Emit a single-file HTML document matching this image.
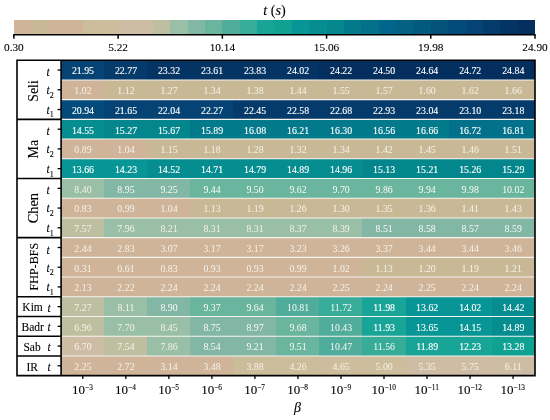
<!DOCTYPE html>
<html lang="en"><head><meta charset="utf-8"><title>t (s) heatmap</title>
<style>html,body{margin:0;padding:0;background:#fff}svg{display:block}text{font-family:"Liberation Serif","DejaVu Serif",serif;fill:#000;stroke:#000;stroke-width:0.1px}.c{font-size:9.85px;fill:#fff;stroke:#fff;stroke-width:0.12px;text-anchor:middle}.l{fill:#f7f2e9;stroke:none}.m{fill:#fcfaf6;stroke:none}.k{font-size:11.5px;text-anchor:middle}.i{font-style:italic}.g{font-size:13px;text-anchor:middle}</style></head><body>
<svg width="550" height="420" viewBox="0 0 550 420">
<rect width="550" height="420" fill="#fff"/>
<text x="274.6" y="14.5" font-size="14.2" text-anchor="middle"><tspan class="i">t</tspan> (<tspan class="i">s</tspan>)</text>
<g shape-rendering="crispEdges">
<rect x="13.90" y="19.6" width="17.87" height="15" fill="#cfb49a"/>
<rect x="31.27" y="19.6" width="17.87" height="15" fill="#c8b895"/>
<rect x="48.64" y="19.6" width="17.87" height="15" fill="#cfb49a"/>
<rect x="66.01" y="19.6" width="17.87" height="15" fill="#cfb49a"/>
<rect x="83.38" y="19.6" width="17.87" height="15" fill="#cbbc9a"/>
<rect x="100.75" y="19.6" width="17.87" height="15" fill="#cdbd9c"/>
<rect x="118.12" y="19.6" width="17.87" height="15" fill="#cebda4"/>
<rect x="135.49" y="19.6" width="17.87" height="15" fill="#cdbda5"/>
<rect x="152.86" y="19.6" width="17.87" height="15" fill="#bebfa0"/>
<rect x="170.23" y="19.6" width="17.87" height="15" fill="#9abfa7"/>
<rect x="187.60" y="19.6" width="17.87" height="15" fill="#82b7a5"/>
<rect x="204.97" y="19.6" width="17.87" height="15" fill="#6ab59d"/>
<rect x="222.34" y="19.6" width="17.87" height="15" fill="#50ac9b"/>
<rect x="239.71" y="19.6" width="17.87" height="15" fill="#37ac98"/>
<rect x="257.08" y="19.6" width="17.87" height="15" fill="#18a598"/>
<rect x="274.45" y="19.6" width="17.87" height="15" fill="#0fa292"/>
<rect x="291.82" y="19.6" width="17.87" height="15" fill="#089595"/>
<rect x="309.19" y="19.6" width="17.87" height="15" fill="#068d90"/>
<rect x="326.56" y="19.6" width="17.87" height="15" fill="#03878d"/>
<rect x="343.93" y="19.6" width="17.87" height="15" fill="#037a8b"/>
<rect x="361.30" y="19.6" width="17.87" height="15" fill="#03718a"/>
<rect x="378.67" y="19.6" width="17.87" height="15" fill="#02658c"/>
<rect x="396.04" y="19.6" width="17.87" height="15" fill="#036184"/>
<rect x="413.41" y="19.6" width="17.87" height="15" fill="#025a7e"/>
<rect x="430.78" y="19.6" width="17.87" height="15" fill="#02527a"/>
<rect x="448.15" y="19.6" width="17.87" height="15" fill="#034b7b"/>
<rect x="465.52" y="19.6" width="17.87" height="15" fill="#044373"/>
<rect x="482.89" y="19.6" width="17.87" height="15" fill="#043b6b"/>
<rect x="500.26" y="19.6" width="17.87" height="15" fill="#043464"/>
<rect x="517.63" y="19.6" width="16.97" height="15" fill="#042e5d"/>
</g>
<path d="M13.200000000000001 34.85H535.7" stroke="#000" stroke-width="1.5" fill="none"/>
<path d="M13.90 34.85V38.7" stroke="#000" stroke-width="1.5"/>
<text x="13.90" y="51" font-size="11.3" text-anchor="middle">0.30</text>
<path d="M118.12 34.85V38.7" stroke="#000" stroke-width="1.5"/>
<text x="118.12" y="51" font-size="11.3" text-anchor="middle">5.22</text>
<path d="M222.34 34.85V38.7" stroke="#000" stroke-width="1.5"/>
<text x="222.34" y="51" font-size="11.3" text-anchor="middle">10.14</text>
<path d="M326.56 34.85V38.7" stroke="#000" stroke-width="1.5"/>
<text x="326.56" y="51" font-size="11.3" text-anchor="middle">15.06</text>
<path d="M430.78 34.85V38.7" stroke="#000" stroke-width="1.5"/>
<text x="430.78" y="51" font-size="11.3" text-anchor="middle">19.98</text>
<path d="M535.00 34.85V38.7" stroke="#000" stroke-width="1.5"/>
<text x="535.00" y="51" font-size="11.3" text-anchor="middle">24.90</text>
<g shape-rendering="crispEdges">
<rect x="61.30" y="60.20" width="43.53" height="20.22" fill="#044373"/>
<rect x="104.33" y="60.20" width="43.53" height="20.22" fill="#043b6b"/>
<rect x="147.35" y="60.20" width="43.53" height="20.22" fill="#043464"/>
<rect x="190.38" y="60.20" width="43.53" height="20.22" fill="#043464"/>
<rect x="233.41" y="60.20" width="43.53" height="20.22" fill="#043464"/>
<rect x="276.44" y="60.20" width="43.53" height="20.22" fill="#043464"/>
<rect x="319.46" y="60.20" width="43.53" height="20.22" fill="#042e5d"/>
<rect x="362.49" y="60.20" width="43.53" height="20.22" fill="#042e5d"/>
<rect x="405.52" y="60.20" width="43.53" height="20.22" fill="#042e5d"/>
<rect x="448.55" y="60.20" width="43.53" height="20.22" fill="#042e5d"/>
<rect x="491.57" y="60.20" width="43.53" height="20.22" fill="#042e5d"/>
<rect x="61.30" y="79.92" width="43.53" height="20.22" fill="#cfb49a"/>
<rect x="104.33" y="79.92" width="43.53" height="20.22" fill="#c8b895"/>
<rect x="147.35" y="79.92" width="43.53" height="20.22" fill="#c8b895"/>
<rect x="190.38" y="79.92" width="43.53" height="20.22" fill="#c8b895"/>
<rect x="233.41" y="79.92" width="43.53" height="20.22" fill="#c8b895"/>
<rect x="276.44" y="79.92" width="43.53" height="20.22" fill="#c8b895"/>
<rect x="319.46" y="79.92" width="43.53" height="20.22" fill="#c8b895"/>
<rect x="362.49" y="79.92" width="43.53" height="20.22" fill="#c8b895"/>
<rect x="405.52" y="79.92" width="43.53" height="20.22" fill="#c8b895"/>
<rect x="448.55" y="79.92" width="43.53" height="20.22" fill="#c8b895"/>
<rect x="491.57" y="79.92" width="43.53" height="20.22" fill="#c8b895"/>
<rect x="61.30" y="99.63" width="43.53" height="20.22" fill="#034b7b"/>
<rect x="104.33" y="99.63" width="43.53" height="20.22" fill="#044373"/>
<rect x="147.35" y="99.63" width="43.53" height="20.22" fill="#044373"/>
<rect x="190.38" y="99.63" width="43.53" height="20.22" fill="#044373"/>
<rect x="233.41" y="99.63" width="43.53" height="20.22" fill="#043b6b"/>
<rect x="276.44" y="99.63" width="43.53" height="20.22" fill="#043b6b"/>
<rect x="319.46" y="99.63" width="43.53" height="20.22" fill="#043b6b"/>
<rect x="362.49" y="99.63" width="43.53" height="20.22" fill="#043b6b"/>
<rect x="405.52" y="99.63" width="43.53" height="20.22" fill="#043b6b"/>
<rect x="448.55" y="99.63" width="43.53" height="20.22" fill="#043b6b"/>
<rect x="491.57" y="99.63" width="43.53" height="20.22" fill="#043b6b"/>
<rect x="61.30" y="119.35" width="43.53" height="20.22" fill="#068d90"/>
<rect x="104.33" y="119.35" width="43.53" height="20.22" fill="#03878d"/>
<rect x="147.35" y="119.35" width="43.53" height="20.22" fill="#03878d"/>
<rect x="190.38" y="119.35" width="43.53" height="20.22" fill="#037a8b"/>
<rect x="233.41" y="119.35" width="43.53" height="20.22" fill="#037a8b"/>
<rect x="276.44" y="119.35" width="43.53" height="20.22" fill="#037a8b"/>
<rect x="319.46" y="119.35" width="43.53" height="20.22" fill="#037a8b"/>
<rect x="362.49" y="119.35" width="43.53" height="20.22" fill="#037a8b"/>
<rect x="405.52" y="119.35" width="43.53" height="20.22" fill="#037a8b"/>
<rect x="448.55" y="119.35" width="43.53" height="20.22" fill="#03718a"/>
<rect x="491.57" y="119.35" width="43.53" height="20.22" fill="#03718a"/>
<rect x="61.30" y="139.06" width="43.53" height="20.22" fill="#cfb49a"/>
<rect x="104.33" y="139.06" width="43.53" height="20.22" fill="#cfb49a"/>
<rect x="147.35" y="139.06" width="43.53" height="20.22" fill="#c8b895"/>
<rect x="190.38" y="139.06" width="43.53" height="20.22" fill="#c8b895"/>
<rect x="233.41" y="139.06" width="43.53" height="20.22" fill="#c8b895"/>
<rect x="276.44" y="139.06" width="43.53" height="20.22" fill="#c8b895"/>
<rect x="319.46" y="139.06" width="43.53" height="20.22" fill="#c8b895"/>
<rect x="362.49" y="139.06" width="43.53" height="20.22" fill="#c8b895"/>
<rect x="405.52" y="139.06" width="43.53" height="20.22" fill="#c8b895"/>
<rect x="448.55" y="139.06" width="43.53" height="20.22" fill="#c8b895"/>
<rect x="491.57" y="139.06" width="43.53" height="20.22" fill="#c8b895"/>
<rect x="61.30" y="158.78" width="43.53" height="20.22" fill="#089595"/>
<rect x="104.33" y="158.78" width="43.53" height="20.22" fill="#089595"/>
<rect x="147.35" y="158.78" width="43.53" height="20.22" fill="#068d90"/>
<rect x="190.38" y="158.78" width="43.53" height="20.22" fill="#068d90"/>
<rect x="233.41" y="158.78" width="43.53" height="20.22" fill="#068d90"/>
<rect x="276.44" y="158.78" width="43.53" height="20.22" fill="#068d90"/>
<rect x="319.46" y="158.78" width="43.53" height="20.22" fill="#068d90"/>
<rect x="362.49" y="158.78" width="43.53" height="20.22" fill="#03878d"/>
<rect x="405.52" y="158.78" width="43.53" height="20.22" fill="#03878d"/>
<rect x="448.55" y="158.78" width="43.53" height="20.22" fill="#03878d"/>
<rect x="491.57" y="158.78" width="43.53" height="20.22" fill="#03878d"/>
<rect x="61.30" y="178.49" width="43.53" height="20.22" fill="#9abfa7"/>
<rect x="104.33" y="178.49" width="43.53" height="20.22" fill="#82b7a5"/>
<rect x="147.35" y="178.49" width="43.53" height="20.22" fill="#82b7a5"/>
<rect x="190.38" y="178.49" width="43.53" height="20.22" fill="#6ab59d"/>
<rect x="233.41" y="178.49" width="43.53" height="20.22" fill="#6ab59d"/>
<rect x="276.44" y="178.49" width="43.53" height="20.22" fill="#6ab59d"/>
<rect x="319.46" y="178.49" width="43.53" height="20.22" fill="#6ab59d"/>
<rect x="362.49" y="178.49" width="43.53" height="20.22" fill="#6ab59d"/>
<rect x="405.52" y="178.49" width="43.53" height="20.22" fill="#6ab59d"/>
<rect x="448.55" y="178.49" width="43.53" height="20.22" fill="#6ab59d"/>
<rect x="491.57" y="178.49" width="43.53" height="20.22" fill="#6ab59d"/>
<rect x="61.30" y="198.21" width="43.53" height="20.22" fill="#cfb49a"/>
<rect x="104.33" y="198.21" width="43.53" height="20.22" fill="#cfb49a"/>
<rect x="147.35" y="198.21" width="43.53" height="20.22" fill="#cfb49a"/>
<rect x="190.38" y="198.21" width="43.53" height="20.22" fill="#c8b895"/>
<rect x="233.41" y="198.21" width="43.53" height="20.22" fill="#c8b895"/>
<rect x="276.44" y="198.21" width="43.53" height="20.22" fill="#c8b895"/>
<rect x="319.46" y="198.21" width="43.53" height="20.22" fill="#c8b895"/>
<rect x="362.49" y="198.21" width="43.53" height="20.22" fill="#c8b895"/>
<rect x="405.52" y="198.21" width="43.53" height="20.22" fill="#c8b895"/>
<rect x="448.55" y="198.21" width="43.53" height="20.22" fill="#c8b895"/>
<rect x="491.57" y="198.21" width="43.53" height="20.22" fill="#c8b895"/>
<rect x="61.30" y="217.93" width="43.53" height="20.22" fill="#bebfa0"/>
<rect x="104.33" y="217.93" width="43.53" height="20.22" fill="#9abfa7"/>
<rect x="147.35" y="217.93" width="43.53" height="20.22" fill="#9abfa7"/>
<rect x="190.38" y="217.93" width="43.53" height="20.22" fill="#9abfa7"/>
<rect x="233.41" y="217.93" width="43.53" height="20.22" fill="#9abfa7"/>
<rect x="276.44" y="217.93" width="43.53" height="20.22" fill="#9abfa7"/>
<rect x="319.46" y="217.93" width="43.53" height="20.22" fill="#9abfa7"/>
<rect x="362.49" y="217.93" width="43.53" height="20.22" fill="#82b7a5"/>
<rect x="405.52" y="217.93" width="43.53" height="20.22" fill="#82b7a5"/>
<rect x="448.55" y="217.93" width="43.53" height="20.22" fill="#82b7a5"/>
<rect x="491.57" y="217.93" width="43.53" height="20.22" fill="#82b7a5"/>
<rect x="61.30" y="237.64" width="43.53" height="20.22" fill="#cfb49a"/>
<rect x="104.33" y="237.64" width="43.53" height="20.22" fill="#cfb49a"/>
<rect x="147.35" y="237.64" width="43.53" height="20.22" fill="#cfb49a"/>
<rect x="190.38" y="237.64" width="43.53" height="20.22" fill="#cfb49a"/>
<rect x="233.41" y="237.64" width="43.53" height="20.22" fill="#cfb49a"/>
<rect x="276.44" y="237.64" width="43.53" height="20.22" fill="#cfb49a"/>
<rect x="319.46" y="237.64" width="43.53" height="20.22" fill="#cfb49a"/>
<rect x="362.49" y="237.64" width="43.53" height="20.22" fill="#cfb49a"/>
<rect x="405.52" y="237.64" width="43.53" height="20.22" fill="#cfb49a"/>
<rect x="448.55" y="237.64" width="43.53" height="20.22" fill="#cfb49a"/>
<rect x="491.57" y="237.64" width="43.53" height="20.22" fill="#cfb49a"/>
<rect x="61.30" y="257.36" width="43.53" height="20.22" fill="#cfb49a"/>
<rect x="104.33" y="257.36" width="43.53" height="20.22" fill="#cfb49a"/>
<rect x="147.35" y="257.36" width="43.53" height="20.22" fill="#cfb49a"/>
<rect x="190.38" y="257.36" width="43.53" height="20.22" fill="#cfb49a"/>
<rect x="233.41" y="257.36" width="43.53" height="20.22" fill="#cfb49a"/>
<rect x="276.44" y="257.36" width="43.53" height="20.22" fill="#cfb49a"/>
<rect x="319.46" y="257.36" width="43.53" height="20.22" fill="#cfb49a"/>
<rect x="362.49" y="257.36" width="43.53" height="20.22" fill="#c8b895"/>
<rect x="405.52" y="257.36" width="43.53" height="20.22" fill="#c8b895"/>
<rect x="448.55" y="257.36" width="43.53" height="20.22" fill="#c8b895"/>
<rect x="491.57" y="257.36" width="43.53" height="20.22" fill="#c8b895"/>
<rect x="61.30" y="277.07" width="43.53" height="20.22" fill="#cfb49a"/>
<rect x="104.33" y="277.07" width="43.53" height="20.22" fill="#cfb49a"/>
<rect x="147.35" y="277.07" width="43.53" height="20.22" fill="#cfb49a"/>
<rect x="190.38" y="277.07" width="43.53" height="20.22" fill="#cfb49a"/>
<rect x="233.41" y="277.07" width="43.53" height="20.22" fill="#cfb49a"/>
<rect x="276.44" y="277.07" width="43.53" height="20.22" fill="#cfb49a"/>
<rect x="319.46" y="277.07" width="43.53" height="20.22" fill="#cfb49a"/>
<rect x="362.49" y="277.07" width="43.53" height="20.22" fill="#cfb49a"/>
<rect x="405.52" y="277.07" width="43.53" height="20.22" fill="#cfb49a"/>
<rect x="448.55" y="277.07" width="43.53" height="20.22" fill="#cfb49a"/>
<rect x="491.57" y="277.07" width="43.53" height="20.22" fill="#cfb49a"/>
<rect x="61.30" y="296.79" width="43.53" height="20.22" fill="#bebfa0"/>
<rect x="104.33" y="296.79" width="43.53" height="20.22" fill="#9abfa7"/>
<rect x="147.35" y="296.79" width="43.53" height="20.22" fill="#82b7a5"/>
<rect x="190.38" y="296.79" width="43.53" height="20.22" fill="#6ab59d"/>
<rect x="233.41" y="296.79" width="43.53" height="20.22" fill="#6ab59d"/>
<rect x="276.44" y="296.79" width="43.53" height="20.22" fill="#50ac9b"/>
<rect x="319.46" y="296.79" width="43.53" height="20.22" fill="#37ac98"/>
<rect x="362.49" y="296.79" width="43.53" height="20.22" fill="#18a598"/>
<rect x="405.52" y="296.79" width="43.53" height="20.22" fill="#089595"/>
<rect x="448.55" y="296.79" width="43.53" height="20.22" fill="#089595"/>
<rect x="491.57" y="296.79" width="43.53" height="20.22" fill="#068d90"/>
<rect x="61.30" y="316.50" width="43.53" height="20.22" fill="#bebfa0"/>
<rect x="104.33" y="316.50" width="43.53" height="20.22" fill="#9abfa7"/>
<rect x="147.35" y="316.50" width="43.53" height="20.22" fill="#9abfa7"/>
<rect x="190.38" y="316.50" width="43.53" height="20.22" fill="#82b7a5"/>
<rect x="233.41" y="316.50" width="43.53" height="20.22" fill="#82b7a5"/>
<rect x="276.44" y="316.50" width="43.53" height="20.22" fill="#6ab59d"/>
<rect x="319.46" y="316.50" width="43.53" height="20.22" fill="#50ac9b"/>
<rect x="362.49" y="316.50" width="43.53" height="20.22" fill="#18a598"/>
<rect x="405.52" y="316.50" width="43.53" height="20.22" fill="#089595"/>
<rect x="448.55" y="316.50" width="43.53" height="20.22" fill="#089595"/>
<rect x="491.57" y="316.50" width="43.53" height="20.22" fill="#068d90"/>
<rect x="61.30" y="336.22" width="43.53" height="20.22" fill="#cdbda5"/>
<rect x="104.33" y="336.22" width="43.53" height="20.22" fill="#bebfa0"/>
<rect x="147.35" y="336.22" width="43.53" height="20.22" fill="#9abfa7"/>
<rect x="190.38" y="336.22" width="43.53" height="20.22" fill="#82b7a5"/>
<rect x="233.41" y="336.22" width="43.53" height="20.22" fill="#82b7a5"/>
<rect x="276.44" y="336.22" width="43.53" height="20.22" fill="#6ab59d"/>
<rect x="319.46" y="336.22" width="43.53" height="20.22" fill="#50ac9b"/>
<rect x="362.49" y="336.22" width="43.53" height="20.22" fill="#37ac98"/>
<rect x="405.52" y="336.22" width="43.53" height="20.22" fill="#18a598"/>
<rect x="448.55" y="336.22" width="43.53" height="20.22" fill="#18a598"/>
<rect x="491.57" y="336.22" width="43.53" height="20.22" fill="#0fa292"/>
<rect x="61.30" y="355.93" width="43.53" height="20.22" fill="#cfb49a"/>
<rect x="104.33" y="355.93" width="43.53" height="20.22" fill="#cfb49a"/>
<rect x="147.35" y="355.93" width="43.53" height="20.22" fill="#cfb49a"/>
<rect x="190.38" y="355.93" width="43.53" height="20.22" fill="#cfb49a"/>
<rect x="233.41" y="355.93" width="43.53" height="20.22" fill="#cbbc9a"/>
<rect x="276.44" y="355.93" width="43.53" height="20.22" fill="#cbbc9a"/>
<rect x="319.46" y="355.93" width="43.53" height="20.22" fill="#cdbd9c"/>
<rect x="362.49" y="355.93" width="43.53" height="20.22" fill="#cdbd9c"/>
<rect x="405.52" y="355.93" width="43.53" height="20.22" fill="#cebda4"/>
<rect x="448.55" y="355.93" width="43.53" height="20.22" fill="#cebda4"/>
<rect x="491.57" y="355.93" width="43.53" height="20.22" fill="#cdbda5"/>
</g>
<path d="M61.3 79.92H534.6" stroke="#f6f4ee" stroke-width="1.05"/>
<path d="M61.3 99.63H534.6" stroke="#f6f4ee" stroke-width="1.05"/>
<path d="M61.3 119.35H534.6" stroke="#f6f4ee" stroke-width="1.05"/>
<path d="M61.3 139.06H534.6" stroke="#f6f4ee" stroke-width="1.05"/>
<path d="M61.3 158.78H534.6" stroke="#f6f4ee" stroke-width="1.05"/>
<path d="M61.3 178.49H534.6" stroke="#f6f4ee" stroke-width="1.05"/>
<path d="M61.3 198.21H534.6" stroke="#f6f4ee" stroke-width="1.05"/>
<path d="M61.3 217.93H534.6" stroke="#f6f4ee" stroke-width="1.05"/>
<path d="M61.3 237.64H534.6" stroke="#f6f4ee" stroke-width="1.05"/>
<path d="M61.3 257.36H534.6" stroke="#f6f4ee" stroke-width="1.05"/>
<path d="M61.3 277.07H534.6" stroke="#f6f4ee" stroke-width="1.05"/>
<path d="M61.3 296.79H534.6" stroke="#f6f4ee" stroke-width="1.05"/>
<path d="M61.3 316.50H534.6" stroke="#f6f4ee" stroke-width="1.05"/>
<path d="M61.3 336.22H534.6" stroke="#f6f4ee" stroke-width="1.05"/>
<path d="M61.3 355.93H534.6" stroke="#f6f4ee" stroke-width="1.05"/>
<text class="c" x="82.96" y="74.36">21.95</text>
<text class="c" x="125.99" y="74.36">22.77</text>
<text class="c" x="169.02" y="74.36">23.32</text>
<text class="c" x="212.05" y="74.36">23.61</text>
<text class="c" x="255.07" y="74.36">23.83</text>
<text class="c" x="298.10" y="74.36">24.02</text>
<text class="c" x="341.13" y="74.36">24.22</text>
<text class="c" x="384.15" y="74.36">24.50</text>
<text class="c" x="427.18" y="74.36">24.64</text>
<text class="c" x="470.21" y="74.36">24.72</text>
<text class="c" x="513.24" y="74.36">24.84</text>
<text class="c l" x="82.96" y="94.07">1.02</text>
<text class="c l" x="125.99" y="94.07">1.12</text>
<text class="c l" x="169.02" y="94.07">1.27</text>
<text class="c l" x="212.05" y="94.07">1.34</text>
<text class="c l" x="255.07" y="94.07">1.38</text>
<text class="c l" x="298.10" y="94.07">1.44</text>
<text class="c l" x="341.13" y="94.07">1.55</text>
<text class="c l" x="384.15" y="94.07">1.57</text>
<text class="c l" x="427.18" y="94.07">1.60</text>
<text class="c l" x="470.21" y="94.07">1.62</text>
<text class="c l" x="513.24" y="94.07">1.66</text>
<text class="c" x="82.96" y="113.79">20.94</text>
<text class="c" x="125.99" y="113.79">21.65</text>
<text class="c" x="169.02" y="113.79">22.04</text>
<text class="c" x="212.05" y="113.79">22.27</text>
<text class="c" x="255.07" y="113.79">22.45</text>
<text class="c" x="298.10" y="113.79">22.58</text>
<text class="c" x="341.13" y="113.79">22.68</text>
<text class="c" x="384.15" y="113.79">22.93</text>
<text class="c" x="427.18" y="113.79">23.04</text>
<text class="c" x="470.21" y="113.79">23.10</text>
<text class="c" x="513.24" y="113.79">23.18</text>
<text class="c" x="82.96" y="133.50">14.55</text>
<text class="c" x="125.99" y="133.50">15.27</text>
<text class="c" x="169.02" y="133.50">15.67</text>
<text class="c" x="212.05" y="133.50">15.89</text>
<text class="c" x="255.07" y="133.50">16.08</text>
<text class="c" x="298.10" y="133.50">16.21</text>
<text class="c" x="341.13" y="133.50">16.30</text>
<text class="c" x="384.15" y="133.50">16.56</text>
<text class="c" x="427.18" y="133.50">16.66</text>
<text class="c" x="470.21" y="133.50">16.72</text>
<text class="c" x="513.24" y="133.50">16.81</text>
<text class="c l" x="82.96" y="153.22">0.89</text>
<text class="c l" x="125.99" y="153.22">1.04</text>
<text class="c l" x="169.02" y="153.22">1.15</text>
<text class="c l" x="212.05" y="153.22">1.18</text>
<text class="c l" x="255.07" y="153.22">1.28</text>
<text class="c l" x="298.10" y="153.22">1.32</text>
<text class="c l" x="341.13" y="153.22">1.34</text>
<text class="c l" x="384.15" y="153.22">1.42</text>
<text class="c l" x="427.18" y="153.22">1.45</text>
<text class="c l" x="470.21" y="153.22">1.46</text>
<text class="c l" x="513.24" y="153.22">1.51</text>
<text class="c" x="82.96" y="172.94">13.66</text>
<text class="c" x="125.99" y="172.94">14.23</text>
<text class="c" x="169.02" y="172.94">14.52</text>
<text class="c" x="212.05" y="172.94">14.71</text>
<text class="c" x="255.07" y="172.94">14.79</text>
<text class="c" x="298.10" y="172.94">14.89</text>
<text class="c" x="341.13" y="172.94">14.96</text>
<text class="c" x="384.15" y="172.94">15.13</text>
<text class="c" x="427.18" y="172.94">15.21</text>
<text class="c" x="470.21" y="172.94">15.26</text>
<text class="c" x="513.24" y="172.94">15.29</text>
<text class="c l" x="82.96" y="192.65">8.40</text>
<text class="c m" x="125.99" y="192.65">8.95</text>
<text class="c m" x="169.02" y="192.65">9.25</text>
<text class="c m" x="212.05" y="192.65">9.44</text>
<text class="c m" x="255.07" y="192.65">9.50</text>
<text class="c m" x="298.10" y="192.65">9.62</text>
<text class="c m" x="341.13" y="192.65">9.70</text>
<text class="c m" x="384.15" y="192.65">9.86</text>
<text class="c m" x="427.18" y="192.65">9.94</text>
<text class="c m" x="470.21" y="192.65">9.98</text>
<text class="c m" x="513.24" y="192.65">10.02</text>
<text class="c l" x="82.96" y="212.37">0.83</text>
<text class="c l" x="125.99" y="212.37">0.99</text>
<text class="c l" x="169.02" y="212.37">1.04</text>
<text class="c l" x="212.05" y="212.37">1.13</text>
<text class="c l" x="255.07" y="212.37">1.19</text>
<text class="c l" x="298.10" y="212.37">1.26</text>
<text class="c l" x="341.13" y="212.37">1.30</text>
<text class="c l" x="384.15" y="212.37">1.35</text>
<text class="c l" x="427.18" y="212.37">1.36</text>
<text class="c l" x="470.21" y="212.37">1.41</text>
<text class="c l" x="513.24" y="212.37">1.43</text>
<text class="c l" x="82.96" y="232.08">7.57</text>
<text class="c l" x="125.99" y="232.08">7.96</text>
<text class="c l" x="169.02" y="232.08">8.21</text>
<text class="c l" x="212.05" y="232.08">8.31</text>
<text class="c l" x="255.07" y="232.08">8.31</text>
<text class="c l" x="298.10" y="232.08">8.37</text>
<text class="c l" x="341.13" y="232.08">8.39</text>
<text class="c m" x="384.15" y="232.08">8.51</text>
<text class="c m" x="427.18" y="232.08">8.58</text>
<text class="c m" x="470.21" y="232.08">8.57</text>
<text class="c m" x="513.24" y="232.08">8.59</text>
<text class="c l" x="82.96" y="251.80">2.44</text>
<text class="c l" x="125.99" y="251.80">2.83</text>
<text class="c l" x="169.02" y="251.80">3.07</text>
<text class="c l" x="212.05" y="251.80">3.17</text>
<text class="c l" x="255.07" y="251.80">3.17</text>
<text class="c l" x="298.10" y="251.80">3.23</text>
<text class="c l" x="341.13" y="251.80">3.26</text>
<text class="c l" x="384.15" y="251.80">3.37</text>
<text class="c l" x="427.18" y="251.80">3.44</text>
<text class="c l" x="470.21" y="251.80">3.44</text>
<text class="c l" x="513.24" y="251.80">3.46</text>
<text class="c l" x="82.96" y="271.51">0.31</text>
<text class="c l" x="125.99" y="271.51">0.61</text>
<text class="c l" x="169.02" y="271.51">0.83</text>
<text class="c l" x="212.05" y="271.51">0.93</text>
<text class="c l" x="255.07" y="271.51">0.93</text>
<text class="c l" x="298.10" y="271.51">0.99</text>
<text class="c l" x="341.13" y="271.51">1.02</text>
<text class="c l" x="384.15" y="271.51">1.13</text>
<text class="c l" x="427.18" y="271.51">1.20</text>
<text class="c l" x="470.21" y="271.51">1.19</text>
<text class="c l" x="513.24" y="271.51">1.21</text>
<text class="c l" x="82.96" y="291.23">2.13</text>
<text class="c l" x="125.99" y="291.23">2.22</text>
<text class="c l" x="169.02" y="291.23">2.24</text>
<text class="c l" x="212.05" y="291.23">2.24</text>
<text class="c l" x="255.07" y="291.23">2.24</text>
<text class="c l" x="298.10" y="291.23">2.24</text>
<text class="c l" x="341.13" y="291.23">2.25</text>
<text class="c l" x="384.15" y="291.23">2.24</text>
<text class="c l" x="427.18" y="291.23">2.25</text>
<text class="c l" x="470.21" y="291.23">2.24</text>
<text class="c l" x="513.24" y="291.23">2.24</text>
<text class="c l" x="82.96" y="310.95">7.27</text>
<text class="c l" x="125.99" y="310.95">8.11</text>
<text class="c m" x="169.02" y="310.95">8.90</text>
<text class="c m" x="212.05" y="310.95">9.37</text>
<text class="c m" x="255.07" y="310.95">9.64</text>
<text class="c m" x="298.10" y="310.95">10.81</text>
<text class="c m" x="341.13" y="310.95">11.72</text>
<text class="c" x="384.15" y="310.95">11.98</text>
<text class="c" x="427.18" y="310.95">13.62</text>
<text class="c" x="470.21" y="310.95">14.02</text>
<text class="c" x="513.24" y="310.95">14.42</text>
<text class="c l" x="82.96" y="330.66">6.96</text>
<text class="c l" x="125.99" y="330.66">7.70</text>
<text class="c l" x="169.02" y="330.66">8.45</text>
<text class="c m" x="212.05" y="330.66">8.75</text>
<text class="c m" x="255.07" y="330.66">8.97</text>
<text class="c m" x="298.10" y="330.66">9.68</text>
<text class="c m" x="341.13" y="330.66">10.43</text>
<text class="c" x="384.15" y="330.66">11.93</text>
<text class="c" x="427.18" y="330.66">13.65</text>
<text class="c" x="470.21" y="330.66">14.15</text>
<text class="c" x="513.24" y="330.66">14.89</text>
<text class="c l" x="82.96" y="350.38">6.70</text>
<text class="c l" x="125.99" y="350.38">7.54</text>
<text class="c l" x="169.02" y="350.38">7.86</text>
<text class="c m" x="212.05" y="350.38">8.54</text>
<text class="c m" x="255.07" y="350.38">9.21</text>
<text class="c m" x="298.10" y="350.38">9.51</text>
<text class="c m" x="341.13" y="350.38">10.47</text>
<text class="c m" x="384.15" y="350.38">11.56</text>
<text class="c" x="427.18" y="350.38">11.89</text>
<text class="c" x="470.21" y="350.38">12.23</text>
<text class="c" x="513.24" y="350.38">13.28</text>
<text class="c l" x="82.96" y="370.09">2.25</text>
<text class="c l" x="125.99" y="370.09">2.72</text>
<text class="c l" x="169.02" y="370.09">3.14</text>
<text class="c l" x="212.05" y="370.09">3.48</text>
<text class="c l" x="255.07" y="370.09">3.88</text>
<text class="c l" x="298.10" y="370.09">4.26</text>
<text class="c l" x="341.13" y="370.09">4.65</text>
<text class="c l" x="384.15" y="370.09">5.00</text>
<text class="c l" x="427.18" y="370.09">5.35</text>
<text class="c l" x="470.21" y="370.09">5.75</text>
<text class="c l" x="513.24" y="370.09">6.11</text>
<rect x="17.0" y="60.2" width="44.3" height="315.45" fill="#fff"/>
<path d="M17.0 60.2H535.0V375.65H17.0Z M61.099999999999994 60.2V375.65" stroke="#000" stroke-width="1.6" fill="none"/>
<path d="M17.0 119.35H61.3" stroke="#000" stroke-width="1.6"/>
<path d="M17.0 178.49H61.3" stroke="#000" stroke-width="1.6"/>
<path d="M17.0 237.64H61.3" stroke="#000" stroke-width="1.6"/>
<path d="M17.0 296.79H61.3" stroke="#000" stroke-width="1.6"/>
<path d="M17.0 316.50H61.3" stroke="#000" stroke-width="1.6"/>
<path d="M17.0 336.22H61.3" stroke="#000" stroke-width="1.6"/>
<path d="M17.0 355.93H61.3" stroke="#000" stroke-width="1.6"/>
<path d="M57.6 70.06H61.3" stroke="#000" stroke-width="1.3"/>
<text class="i" font-size="11.5" x="46.6" y="76.06">t</text>
<path d="M57.6 89.77H61.3" stroke="#000" stroke-width="1.3"/>
<text font-size="11.5" x="46.6" y="94.17"><tspan class="i">t</tspan><tspan font-size="8" dy="3.6">2</tspan></text>
<path d="M57.6 109.49H61.3" stroke="#000" stroke-width="1.3"/>
<text font-size="11.5" x="46.6" y="113.89"><tspan class="i">t</tspan><tspan font-size="8" dy="3.6">1</tspan></text>
<path d="M57.6 129.20H61.3" stroke="#000" stroke-width="1.3"/>
<text class="i" font-size="11.5" x="46.6" y="135.20">t</text>
<path d="M57.6 148.92H61.3" stroke="#000" stroke-width="1.3"/>
<text font-size="11.5" x="46.6" y="153.32"><tspan class="i">t</tspan><tspan font-size="8" dy="3.6">2</tspan></text>
<path d="M57.6 168.64H61.3" stroke="#000" stroke-width="1.3"/>
<text font-size="11.5" x="46.6" y="173.04"><tspan class="i">t</tspan><tspan font-size="8" dy="3.6">1</tspan></text>
<path d="M57.6 188.35H61.3" stroke="#000" stroke-width="1.3"/>
<text class="i" font-size="11.5" x="46.6" y="194.35">t</text>
<path d="M57.6 208.07H61.3" stroke="#000" stroke-width="1.3"/>
<text font-size="11.5" x="46.6" y="212.47"><tspan class="i">t</tspan><tspan font-size="8" dy="3.6">2</tspan></text>
<path d="M57.6 227.78H61.3" stroke="#000" stroke-width="1.3"/>
<text font-size="11.5" x="46.6" y="232.18"><tspan class="i">t</tspan><tspan font-size="8" dy="3.6">1</tspan></text>
<path d="M57.6 247.50H61.3" stroke="#000" stroke-width="1.3"/>
<text class="i" font-size="11.5" x="46.6" y="253.50">t</text>
<path d="M57.6 267.21H61.3" stroke="#000" stroke-width="1.3"/>
<text font-size="11.5" x="46.6" y="271.61"><tspan class="i">t</tspan><tspan font-size="8" dy="3.6">2</tspan></text>
<path d="M57.6 286.93H61.3" stroke="#000" stroke-width="1.3"/>
<text font-size="11.5" x="46.6" y="291.33"><tspan class="i">t</tspan><tspan font-size="8" dy="3.6">1</tspan></text>
<path d="M57.6 306.65H61.3" stroke="#000" stroke-width="1.3"/>
<text class="i" font-size="11.5" x="47.5" y="311.65">t</text>
<path d="M57.6 326.36H61.3" stroke="#000" stroke-width="1.3"/>
<text class="i" font-size="11.5" x="47.5" y="331.36">t</text>
<path d="M57.6 346.08H61.3" stroke="#000" stroke-width="1.3"/>
<text class="i" font-size="11.5" x="47.5" y="351.08">t</text>
<path d="M57.6 365.79H61.3" stroke="#000" stroke-width="1.3"/>
<text class="i" font-size="11.5" x="47.5" y="370.79">t</text>
<text class="g" transform="translate(38.2 90.97) rotate(-90)" style="font-size:13.8px">Seli</text>
<text class="g" transform="translate(38.2 149.22) rotate(-90)" style="font-size:14px">Ma</text>
<text class="g" transform="translate(38.2 208.17) rotate(-90)" style="font-size:14.4px">Chen</text>
<text class="g" transform="translate(38.2 266.71) rotate(-90)" style="font-size:12.1px">FHP-BFS</text>
<text font-size="11.5" text-anchor="middle" x="32.6" y="311.45">Kim</text>
<text font-size="11.5" text-anchor="middle" x="32.7" y="331.16">Badr</text>
<text font-size="11.5" text-anchor="middle" x="32.1" y="350.88">Sab</text>
<text font-size="11.5" text-anchor="middle" x="32.2" y="370.59">IR</text>
<path d="M82.81 375.65V379" stroke="#000" stroke-width="1.3"/>
<text x="82.51" y="394.4" font-size="13" text-anchor="middle">10<tspan font-size="7.4" dy="-4.1">−3</tspan></text>
<path d="M125.84 375.65V379" stroke="#000" stroke-width="1.3"/>
<text x="125.54" y="394.4" font-size="13" text-anchor="middle">10<tspan font-size="7.4" dy="-4.1">−4</tspan></text>
<path d="M168.87 375.65V379" stroke="#000" stroke-width="1.3"/>
<text x="168.57" y="394.4" font-size="13" text-anchor="middle">10<tspan font-size="7.4" dy="-4.1">−5</tspan></text>
<path d="M211.90 375.65V379" stroke="#000" stroke-width="1.3"/>
<text x="211.60" y="394.4" font-size="13" text-anchor="middle">10<tspan font-size="7.4" dy="-4.1">−6</tspan></text>
<path d="M254.92 375.65V379" stroke="#000" stroke-width="1.3"/>
<text x="254.62" y="394.4" font-size="13" text-anchor="middle">10<tspan font-size="7.4" dy="-4.1">−7</tspan></text>
<path d="M297.95 375.65V379" stroke="#000" stroke-width="1.3"/>
<text x="297.65" y="394.4" font-size="13" text-anchor="middle">10<tspan font-size="7.4" dy="-4.1">−8</tspan></text>
<path d="M340.98 375.65V379" stroke="#000" stroke-width="1.3"/>
<text x="340.68" y="394.4" font-size="13" text-anchor="middle">10<tspan font-size="7.4" dy="-4.1">−9</tspan></text>
<path d="M384.00 375.65V379" stroke="#000" stroke-width="1.3"/>
<text x="383.70" y="394.4" font-size="13" text-anchor="middle">10<tspan font-size="7.4" dy="-4.1">−10</tspan></text>
<path d="M427.03 375.65V379" stroke="#000" stroke-width="1.3"/>
<text x="426.73" y="394.4" font-size="13" text-anchor="middle">10<tspan font-size="7.4" dy="-4.1">−11</tspan></text>
<path d="M470.06 375.65V379" stroke="#000" stroke-width="1.3"/>
<text x="469.76" y="394.4" font-size="13" text-anchor="middle">10<tspan font-size="7.4" dy="-4.1">−12</tspan></text>
<path d="M513.09 375.65V379" stroke="#000" stroke-width="1.3"/>
<text x="512.79" y="394.4" font-size="13" text-anchor="middle">10<tspan font-size="7.4" dy="-4.1">−13</tspan></text>
<text class="i" font-size="14" text-anchor="middle" x="297.6" y="412.1">β</text>
</svg></body></html>
